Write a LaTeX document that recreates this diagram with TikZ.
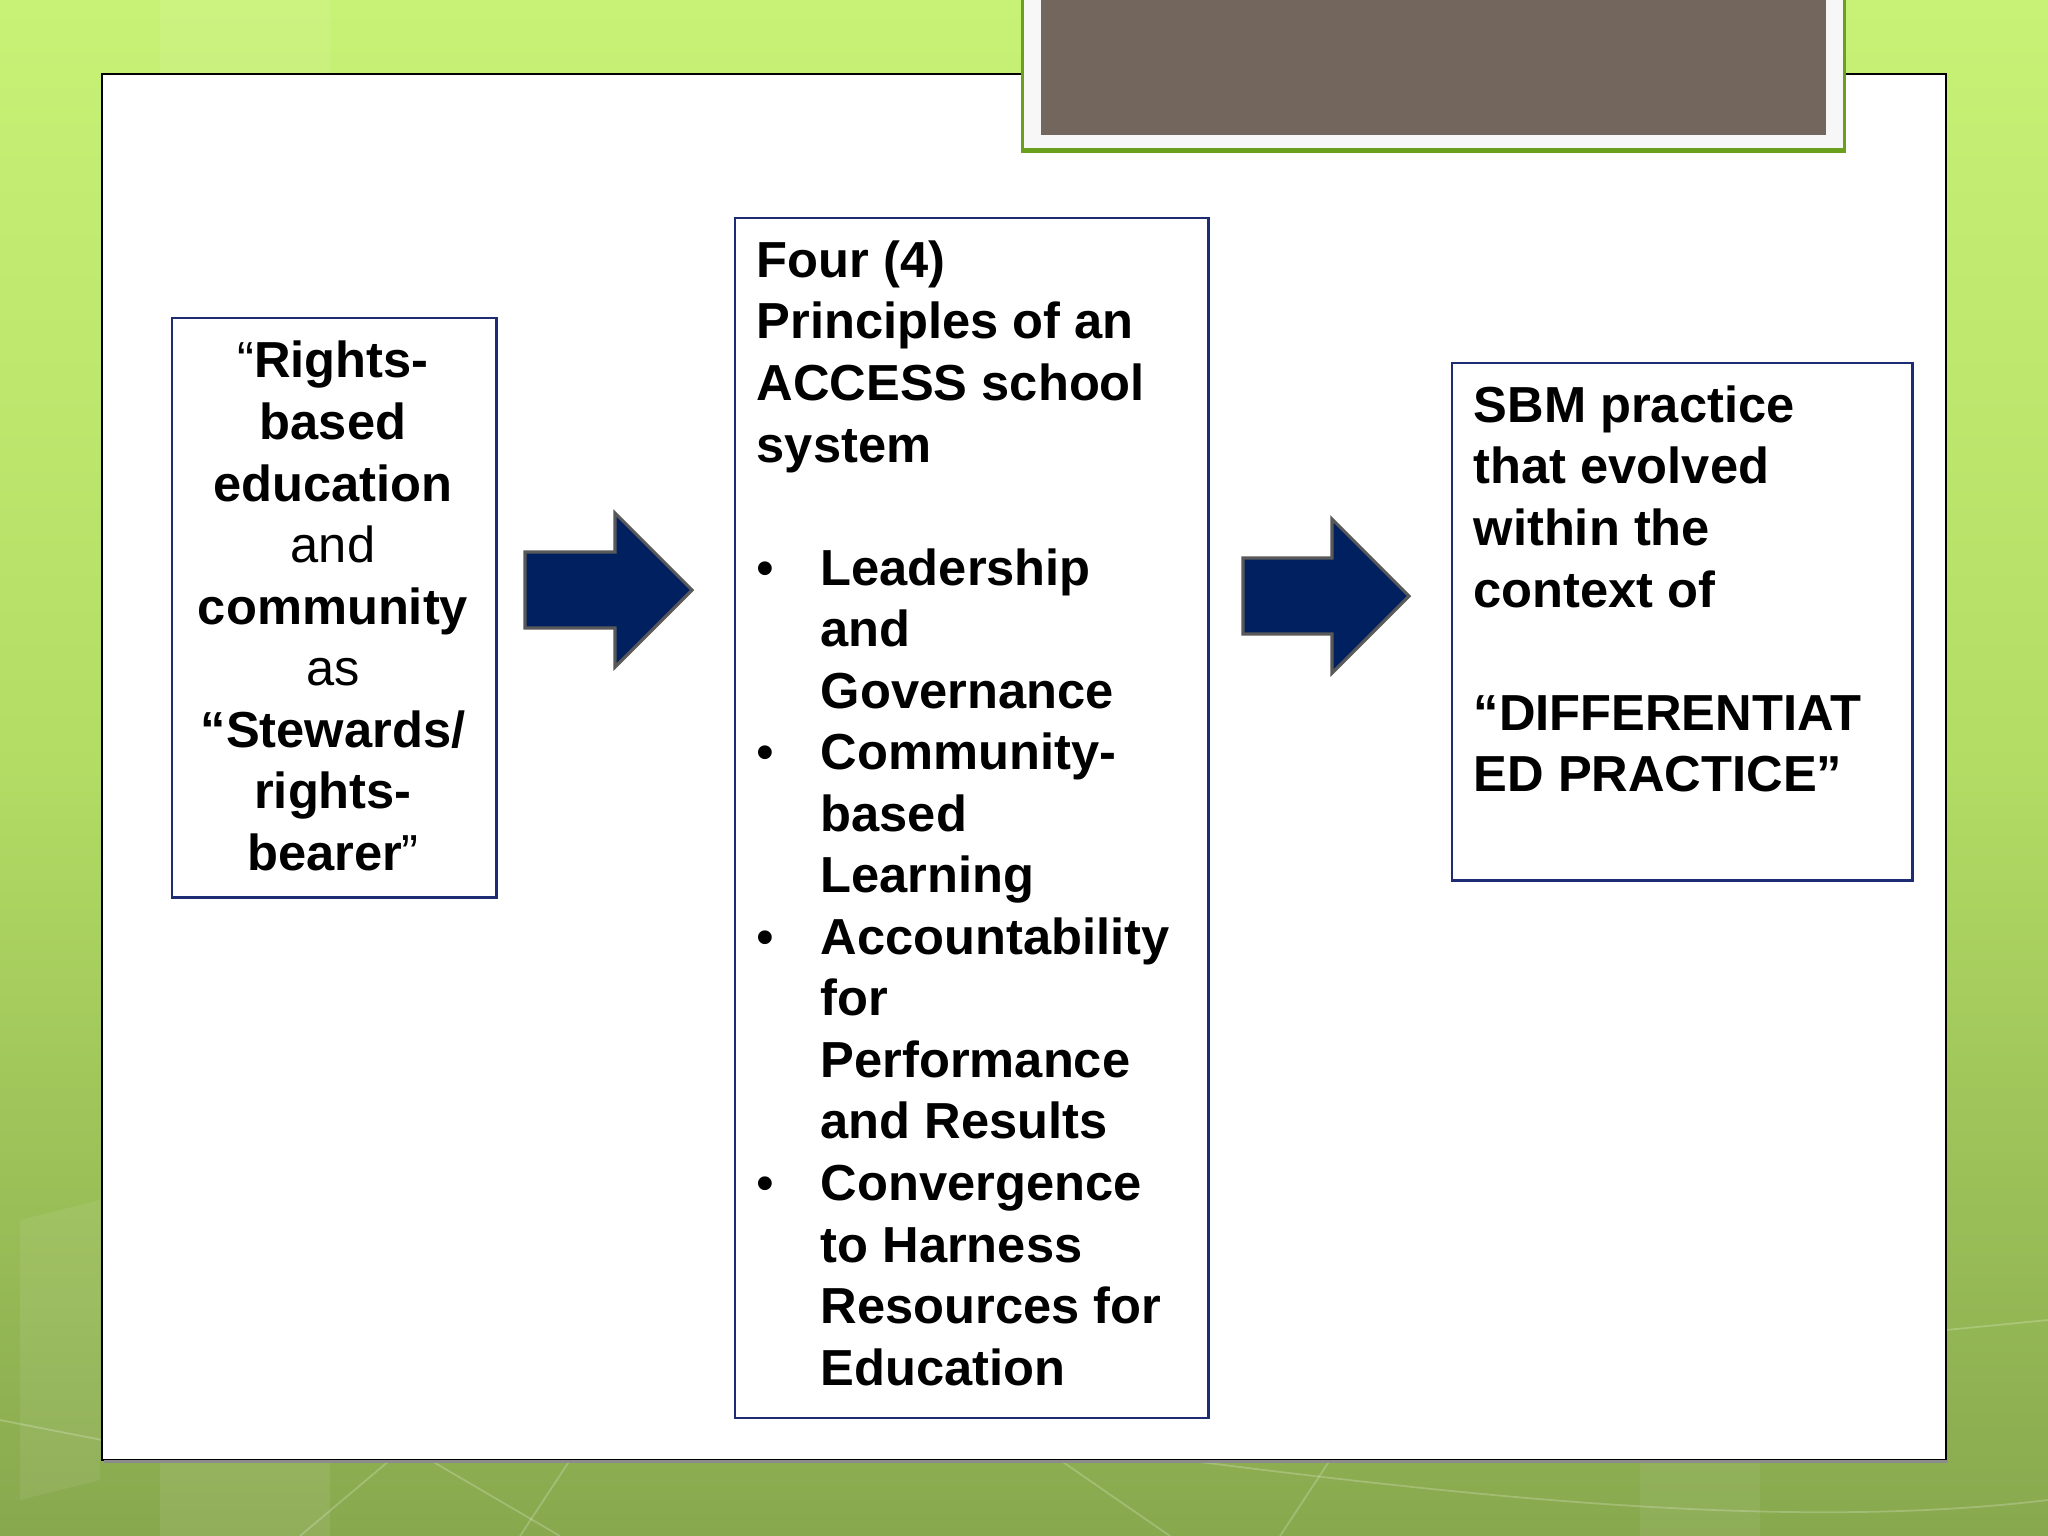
\documentclass[tikz,border=0pt]{standalone}
\usepackage{fontspec}
\setmainfont{Liberation Sans}

\definecolor{bgtop}{RGB}{200,242,118}
\definecolor{bgmid}{RGB}{178,220,100}
\definecolor{bgbot}{RGB}{136,168,78}
\definecolor{framegreen}{RGB}{106,160,28}
\definecolor{photogray}{RGB}{115,103,93}
\definecolor{boxblue}{RGB}{30,45,115}
\definecolor{arrownavy}{RGB}{0,32,96}

% bullet and hanging indent for the middle list
\newcommand{\bul}{\makebox[18.2pt][l]{\mdseries\textbullet}}
\newcommand{\ind}{\hspace*{18.2pt}}

\begin{document}
\begin{tikzpicture}[x=0.01cm, y=-0.01cm,
    % Styles for each element
    panel/.style={draw=black, line width=0.6pt, fill=white},
    box/.style={rectangle, draw=boxblue, line width=0.7pt, fill=white, inner sep=0pt, anchor=north west},
    txt/.style={inner sep=0pt, font=\fontsize{14.4}{17.5}\selectfont\bfseries},
    blockarrow/.style={fill=arrownavy, draw=black!65, line width=0.9pt, line join=miter},
    deco/.style={white, opacity=0.22, line width=0.5pt}
]
\useasboundingbox (0,0) rectangle (2048,1536);

% Background
\shade[top color=bgtop, bottom color=bgbot, middle color=bgmid] (0,0) rectangle (2048,1536);
\fill[white, opacity=0.08] (160,0) rectangle (330,1536);
\fill[white, opacity=0.06] (1640,0) rectangle (1760,1536);
\fill[white, opacity=0.07] (20,1220) -- (100,1200) -- (100,1480) -- (20,1500) -- cycle;
\draw[deco] (300,1536) -- (390,1460);
\draw[deco] (430,1460) -- (560,1536);
\draw[deco] (520,1536) -- (570,1460);
\draw[deco] (1060,1460) -- (1170,1536);
\draw[deco] (1330,1460) -- (1280,1536);
\draw[deco] (1200,1462) .. controls (1500,1500) and (1800,1530) .. (2048,1500);
\draw[deco] (0,1420) -- (102,1440);
\draw[deco] (1946,1330) -- (2048,1320);

% White panel and photo frame
\draw[panel] (102,74) rectangle (1946,1460);
\fill[black!45] (104,1460) rectangle (1948,1463);
\fill[framegreen] (1021,0) rectangle (1846,153);
\fill[black!3] (1024,0) rectangle (1843,148);
\fill[photogray] (1041,0) rectangle (1826,135);

% Boxes
\node[box, minimum width=3.24cm, minimum height=5.79cm] (rights) at (171,317) {};
\node[box, minimum width=4.73cm, minimum height=11.99cm] (access) at (734,217) {};
\node[box, minimum width=4.60cm, minimum height=5.17cm] (sbm) at (1451,362) {};

% Box texts
\node[txt, align=center] (rightstxt) at (333,606)
    {{\mdseries“}Rights-\\based\\education\\{\mdseries and}\\community\\{\mdseries as}\\“Stewards/\\rights-\\bearer{\mdseries”}};
\node[txt, align=left, anchor=north west] (accesstxt) at (756,240)
    {Four (4)\\Principles of an\\ACCESS school\\system\\[17.5pt]
     \bul Leadership\\\ind and\\\ind Governance\\
     \bul Community-\\\ind based\\\ind Learning\\
     \bul Accountability\\\ind for\\\ind Performance\\\ind and Results\\
     \bul Convergence\\\ind to Harness\\\ind Resources for\\\ind Education};
\node[txt, align=left, anchor=north west] (sbmtxt) at (1473,385)
    {SBM practice\\that evolved\\within the\\context of\\[17.5pt]“DIFFERENTIAT\\ED PRACTICE”};

% Block arrows between the boxes
\draw[blockarrow] (525,552) -- (615,552) -- (615,513) -- (692,590) -- (615,667) -- (615,628) -- (525,628) -- cycle;
\draw[blockarrow] (1243,558) -- (1332,558) -- (1332,519) -- (1409,596) -- (1332,673) -- (1332,634) -- (1243,634) -- cycle;

\end{tikzpicture}
\end{document}
